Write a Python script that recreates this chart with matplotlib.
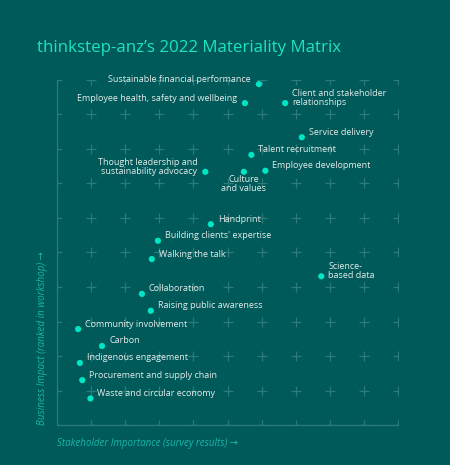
import matplotlib
matplotlib.use("Agg")
import matplotlib.pyplot as plt
import numpy as np

# ---- data ----
topics = [
    "Sustainable financial performance",
    "Employee health, safety and wellbeing",
    "Client and stakeholder\nrelationships",
    "Service delivery",
    "Talent recruitment",
    "Thought leadership and\nsustainability advocacy",
    "Culture\nand values",
    "Employee development",
    "Handprint",
    "Building clients' expertise",
    "Walking the talk",
    "Science-\nbased data",
    "Collaboration",
    "Raising public awareness",
    "Community involvement",
    "Carbon",
    "Indigenous engagement",
    "Procurement and supply chain",
    "Waste and circular economy",
]
stakeholder_importance = [5.92, 5.51, 6.69, 7.18, 5.70, 4.35, 5.48, 6.11, 4.51, 2.96,
                          2.78, 7.75, 2.49, 2.75, 0.62, 1.32, 0.67, 0.74, 0.98]
business_impact = [9.88, 9.33, 9.33, 8.34, 7.83, 7.34, 7.34, 7.37, 5.82, 5.34,
                   4.81, 4.31, 3.80, 3.31, 2.78, 2.29, 1.80, 1.30, 0.77]

title = "thinkstep-anz\u2019s 2022 Materiality Matrix"
xlabel = "Stakeholder Importance (survey results) \u2192"
ylabel = "Business Impact (ranked in workshop) \u2192"

# ---- layout / style ----
BG = "#005a5a"
DOT = "#00e6c4"
GRID = "#2c7a79"
TXT = "#e4ecea"
TITLE_C = "#1ee3c2"
AXLAB_C = "#19b8a8"
FONT = ["Open Sans", "DejaVu Sans"]

# label placement (pixels: dx, dy, ha, va)
special = {
    0: (-8, 5, "right", "center"),
    1: (-8, 5, "right", "center"),
    5: (-8, 4.5, "right", "center"),
    6: (0, -12, "center", "center"),
}
default = (7, 5, "left", "center")

fig = plt.figure(figsize=(4.5, 4.65), dpi=100, facecolor=BG)
ax = fig.add_axes([57/450, 1-425/465, (398-57)/450, (425-80)/465])
ax.set_facecolor(BG)
ax.set_xlim(0, 10)
ax.set_ylim(0, 10)

# grid crosses
gx, gy = np.meshgrid(np.arange(0, 11), np.arange(0, 11))
ax.plot(gx.ravel(), gy.ravel(), linestyle="none", marker="+", markersize=7.5,
        markeredgewidth=0.9, color=GRID, clip_on=True, zorder=1)

for s in ["top", "right"]:
    ax.spines[s].set_visible(False)
for s in ["left", "bottom"]:
    ax.spines[s].set_color(GRID)
    ax.spines[s].set_linewidth(0.9)
ax.set_xticks([])
ax.set_yticks([])

ax.scatter(stakeholder_importance, business_impact, s=20, color=DOT,
           edgecolors="none", zorder=3, clip_on=False)

px = 72 / 100
for i, (t, x, y) in enumerate(zip(topics, stakeholder_importance, business_impact)):
    dx, dy, ha, va = special.get(i, default)
    ax.annotate(t, (x, y), xytext=(dx * px, dy * px), textcoords="offset points",
                ha=ha, va=va, multialignment=ha, color=TXT, fontsize=6.5,
                family=FONT, fontweight="medium", linespacing=1.05, zorder=4,
                annotation_clip=False)

fig.text(37/450, 1-48/465, title, color=TITLE_C, fontsize=12.2, family=FONT,
         ha="left", va="center")
fig.text(57/450, 1-443/465, xlabel, color=AXLAB_C, fontsize=7.05, family=FONT,
         style="italic", ha="left", va="center")
fig.text(43/450, 1-425/465, ylabel, color=AXLAB_C, fontsize=7.05, family=FONT,
         style="italic", ha="center", va="bottom", rotation=90)

fig.savefig("out.png", dpi=100, facecolor=BG)
